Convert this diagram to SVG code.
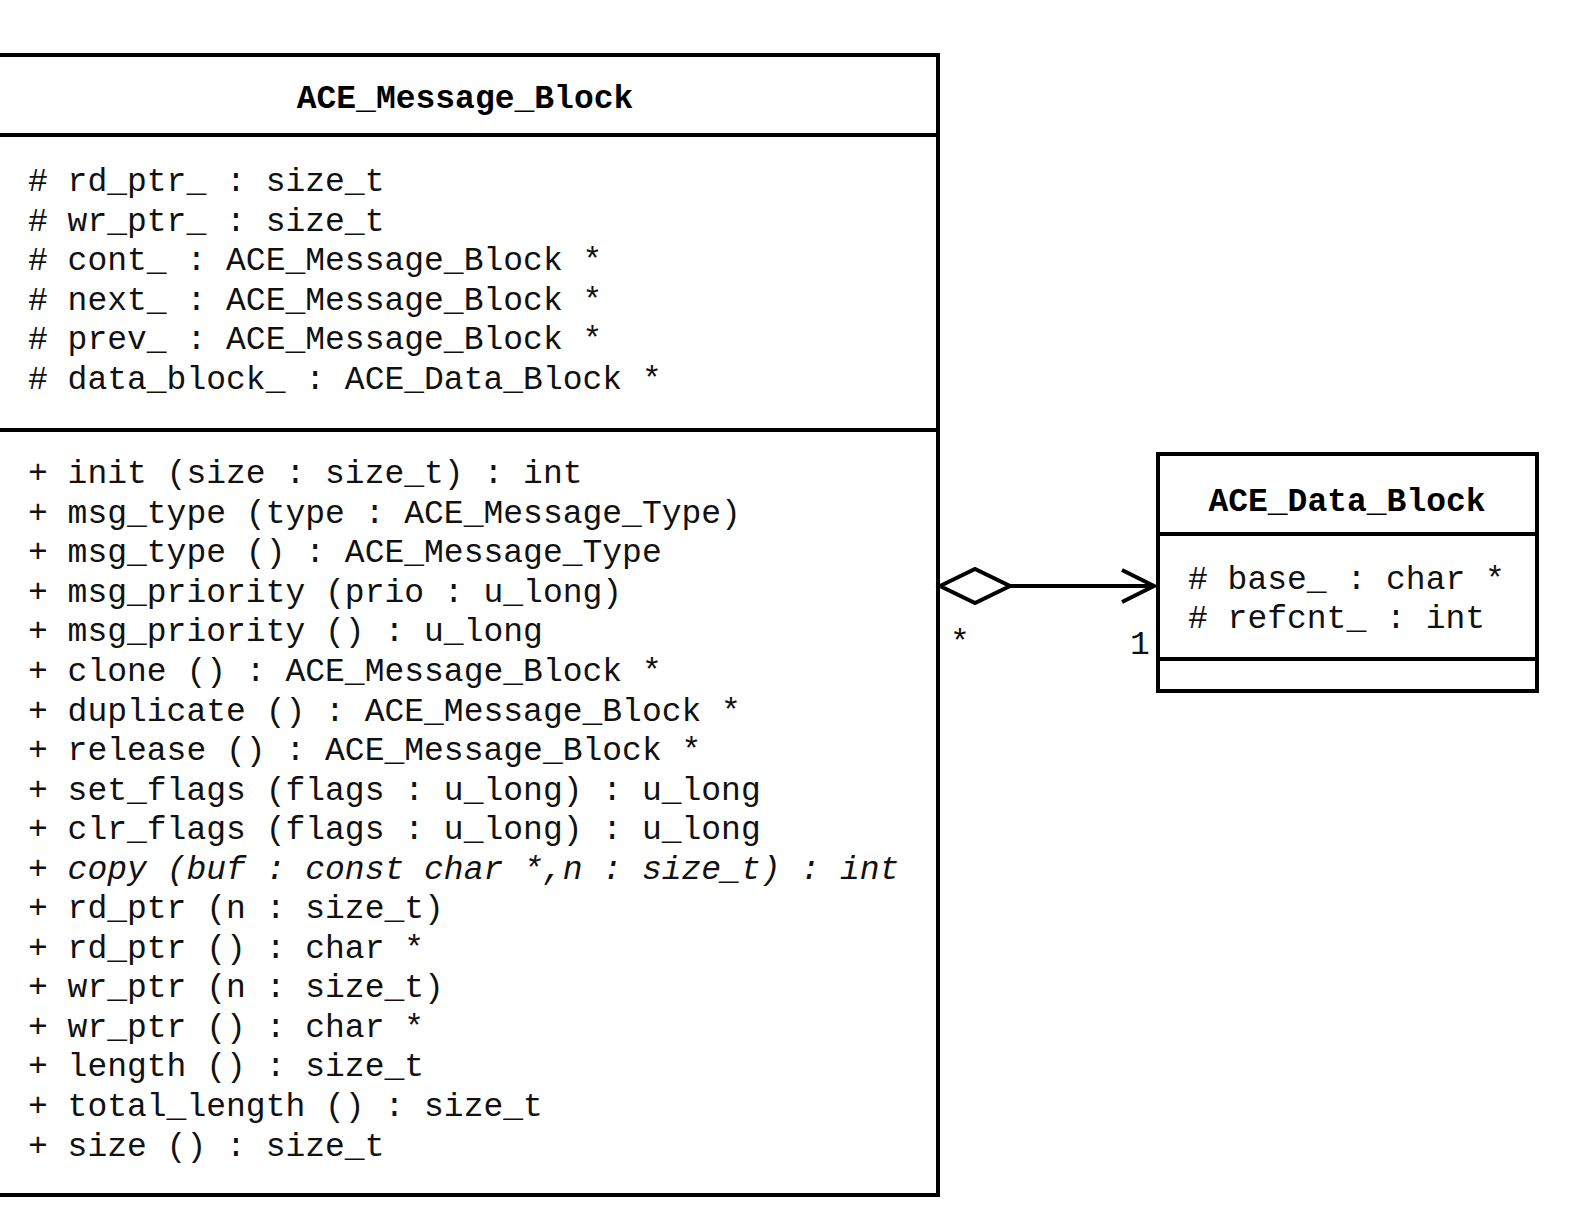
<svg xmlns="http://www.w3.org/2000/svg" width="1574" height="1225" viewBox="0 0 1574 1225">
<style>
.box{fill:#fff;stroke:#000;stroke-width:4}
.ln{stroke:#000;stroke-width:4}
.t{font-family:"Liberation Mono",monospace;font-size:33px;fill:#111}
.h{font-family:"Liberation Mono",monospace;font-size:33px;font-weight:bold;fill:#000;text-anchor:middle}
</style>
<rect width="1574" height="1225" fill="#fff"/>
<g id="ace_message_block">
<rect class="box" x="-2" y="55" width="940" height="1140"/>
<line class="ln" x1="0" y1="135" x2="938" y2="135"/>
<line class="ln" x1="0" y1="430" x2="938" y2="430"/>
<text class="h" x="465" y="108">ACE_Message_Block</text>
<g class="t">
<text x="28" y="191"># rd_ptr_ : size_t</text>
<text x="28" y="231"># wr_ptr_ : size_t</text>
<text x="28" y="270"># cont_ : ACE_Message_Block *</text>
<text x="28" y="310"># next_ : ACE_Message_Block *</text>
<text x="28" y="349"># prev_ : ACE_Message_Block *</text>
<text x="28" y="389"># data_block_ : ACE_Data_Block *</text>
<text x="28" y="483">+ init (size : size_t) : int</text>
<text x="28" y="523">+ msg_type (type : ACE_Message_Type)</text>
<text x="28" y="562">+ msg_type () : ACE_Message_Type</text>
<text x="28" y="602">+ msg_priority (prio : u_long)</text>
<text x="28" y="641">+ msg_priority () : u_long</text>
<text x="28" y="681">+ clone () : ACE_Message_Block *</text>
<text x="28" y="721">+ duplicate () : ACE_Message_Block *</text>
<text x="28" y="760">+ release () : ACE_Message_Block *</text>
<text x="28" y="800">+ set_flags (flags : u_long) : u_long</text>
<text x="28" y="839">+ clr_flags (flags : u_long) : u_long</text>
<text x="28" y="879">+ <tspan font-style="italic">copy (buf : const char *,n : size_t) : int</tspan></text>
<text x="28" y="918">+ rd_ptr (n : size_t)</text>
<text x="28" y="958">+ rd_ptr () : char *</text>
<text x="28" y="997">+ wr_ptr (n : size_t)</text>
<text x="28" y="1037">+ wr_ptr () : char *</text>
<text x="28" y="1076">+ length () : size_t</text>
<text x="28" y="1116">+ total_length () : size_t</text>
<text x="28" y="1156">+ size () : size_t</text>
</g>
</g>
<g id="ace_data_block">
<rect class="box" x="1158" y="454" width="379" height="237"/>
<line class="ln" x1="1158" y1="534" x2="1537" y2="534"/>
<line class="ln" x1="1158" y1="659" x2="1537" y2="659"/>
<text class="h" x="1347" y="511">ACE_Data_Block</text>
<g class="t">
<text x="1188" y="589"># base_ : char *</text>
<text x="1188" y="628"># refcnt_ : int</text>
</g>
</g>
<g id="connectors">
<polygon points="940,586 975,569 1010,586 975,603" fill="#fff" stroke="#000" stroke-width="4"/>
<line class="ln" x1="1010" y1="586" x2="1154" y2="586"/>
<polyline points="1122,570 1154,586 1122,602" fill="none" stroke="#000" stroke-width="4"/>
<text class="t" x="950" y="652">*</text>
<text class="t" x="1130" y="654">1</text>
</g>
</svg>
